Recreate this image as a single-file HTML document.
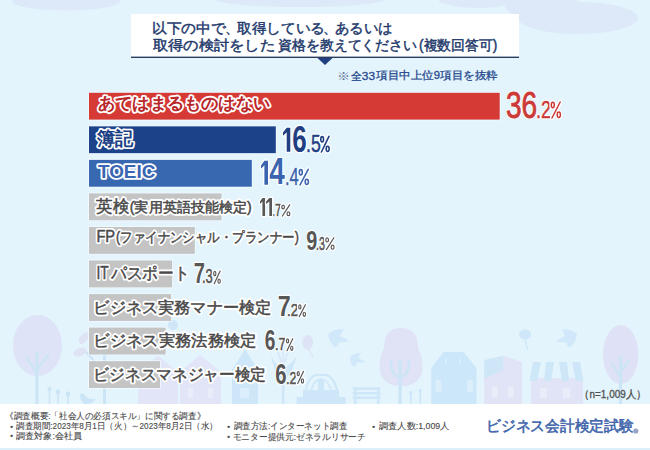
<!DOCTYPE html>
<html lang="ja">
<head>
<meta charset="utf-8">
<style>
html,body{margin:0;padding:0;}
body{width:650px;height:450px;overflow:hidden;position:relative;background:#e3f4fd;font-family:"Liberation Sans",sans-serif;}
svg{position:absolute;left:0;top:0;display:block;}
text{font-family:"Liberation Sans",sans-serif;}
.ls{font-family:"Liberation Sans",sans-serif;}
</style>
</head>
<body>
<svg width="650" height="450" viewBox="0 0 650 450">
<defs>
<linearGradient id="lg" x1="0" y1="0" x2="0" y2="1"><stop offset="0" stop-color="#5a7fc2"/><stop offset="1" stop-color="#34579c"/></linearGradient>
</defs>
<g id="clouds" fill="#dde9f8">
<ellipse cx="66" cy="1" rx="54" ry="9.5"/>
<ellipse cx="300" cy="-1" rx="85" ry="8"/>
<ellipse cx="478" cy="-1" rx="40" ry="9"/>
<ellipse cx="578" cy="18" rx="60" ry="16"/>
<ellipse cx="545" cy="7" rx="40" ry="11"/>
</g>
<g id="city">
<!-- tree 1 -->
<ellipse cx="37.5" cy="345.5" rx="24.5" ry="30.5" fill="#dee3f7"/>
<rect x="35.5" y="352" width="3" height="52" fill="#cbe5f7"/>
<path d="M37 374 L26 356 M37 370 L49 354" stroke="#cbe5f7" stroke-width="2.2" fill="none"/>
<g stroke="#cbe5f7" stroke-width="1.6" fill="#cbe5f7">
<line x1="49.5" y1="390" x2="49.5" y2="404"/><circle cx="49.5" cy="389" r="1.3"/>
<line x1="58" y1="393" x2="58" y2="404"/><circle cx="58" cy="392" r="1.6"/>
<line x1="68" y1="395" x2="68" y2="404"/><circle cx="68" cy="394" r="1.6"/>
</g>
<path d="M80 394 Q84 392 86 397 Q90 400 96 399 Q92 405 84 404 Q80 400 80 394 Z" fill="#cbe5f7"/>
<!-- tree behind bars -->
<g fill="#dfe3f6"><ellipse cx="84" cy="338" rx="4" ry="7" transform="rotate(40 84 338)"/><ellipse cx="80" cy="352" rx="4" ry="7" transform="rotate(70 80 352)"/><ellipse cx="95" cy="345" rx="3.5" ry="6" transform="rotate(20 95 345)"/></g><rect x="103" y="345" width="3" height="59" fill="#cbe5f7"/><path d="M104 372 L86 352" stroke="#cbe5f7" stroke-width="2"/>
<!-- lavender house left -->
<path d="M138 404 L138 372 L158 356 L178 372 L178 404 Z" fill="#e1e5f7"/>
<!-- balloon -->
<circle cx="173" cy="325" r="5" fill="#cfe6f8"/>
<!-- lavender gable house -->
<path d="M180 404 L180 372 L200 355 L221 372 L221 404 Z" fill="#e1e5f7"/>
<g fill="#e9ecf9"><rect x="188" y="388" width="5" height="10"/><rect x="208" y="388" width="5" height="10"/></g>
<!-- blue steeple house -->
<path d="M232 404 L232 370 L245 349 L258 370 L258 404 Z" fill="#cde6f8"/>
<rect x="240" y="388" width="9" height="10" fill="#dcedfb"/>
<!-- tulip lamp -->
<path d="M271 356 Q276 378 283 380 Q290 378 297 356 Q290 366 283 368 Q276 366 271 356 Z" fill="#cde6f8"/>
<rect x="281.8" y="376" width="2.6" height="28" fill="#cde6f8"/>
<path d="M283 368 L278 352 M283 368 L288 351 M283 368 L283 350" stroke="#d8e6f7" stroke-width="1.5"/>
<!-- balloon lavender -->
<ellipse cx="307.7" cy="342.5" rx="5.3" ry="7.5" fill="#dfe3f6"/>
<path d="M309 350 L313 358" stroke="#dfe3f6" stroke-width="1.2"/>
<!-- fountain -->
<path d="M296.6 404 L296.6 397 L303 397 L303 390 L339 390 L339 397 L345.6 397 L345.6 404 Z" fill="#cde6f8"/>
<rect x="318" y="380" width="6" height="12" fill="#cde6f8"/>
<path d="M305 395 Q308 372 321 375 Q334 372 338 395" stroke="#cde6f8" stroke-width="2" fill="none"/>
<path d="M311 393 Q313 380 321 379 Q329 380 332 393" stroke="#cde6f8" stroke-width="1.6" fill="none"/>
<!-- birds -->
<path d="M328 334 Q333 329 344 329 L340 336 Q345 338 349 341 Q343 343 339 342 Q338 347 335 347 Q329 343 328 334 Z" fill="#d0e8f9"/>
<path d="M350 357 Q354 353 361 353 L358 358 Q362 360 365 362 Q360 363 357 362 Q356 367 354 367 Q350 363 350 357 Z" fill="#d0e8f9"/>
<!-- bench -->
<g fill="#cde6f8"><rect x="352.6" y="387.4" width="28" height="2.5"/><rect x="352.6" y="392" width="28" height="2.5"/><rect x="352.6" y="396.5" width="28" height="2.5"/><rect x="354" y="387" width="2.5" height="17"/><rect x="377" y="387" width="2.5" height="17"/></g>
<!-- tree 2 -->
<path d="M401 328 Q418 328 418 348 Q424 360 422 372 Q418 386 401 386 Q384 386 380 372 Q378 360 384 348 Q384 328 401 328 Z" fill="#e0e2f6"/>
<rect x="398.5" y="360" width="3.2" height="44" fill="#cbe5f7"/>
<path d="M391 360 Q391 376 400 377 Q409 376 409 360" stroke="#cbe5f7" stroke-width="2.4" fill="none"/>
<g fill="#cbe5f7"><rect x="410" y="393" width="1.6" height="11"/><circle cx="410.8" cy="392.5" r="1.5"/><rect x="419.5" y="391" width="1.6" height="13"/><circle cx="420.3" cy="390.5" r="1.4"/></g>
<!-- blue house -->
<path d="M431.2 404 L431.2 368 L443.5 352 L463.5 352 L476.5 368 L476.5 404 Z" fill="#cde7fa"/>
<g fill="#dcedfb"><rect x="435.5" y="380" width="6" height="12"/><rect x="467" y="380" width="6" height="12"/><rect x="445" y="359" width="2" height="4"/><rect x="459" y="359" width="2" height="4"/></g>
<!-- lavender house with blue roof -->
<path d="M484.2 404 L484.2 375 L503.5 364 L522 375 L522 404 Z" fill="#e1e4f7"/>
<path d="M484.2 378.8 L484.2 360 L503.5 355.8 L503.5 370 Z" fill="#cfe6f8"/>
<path d="M503.5 355.8 L522 362 L522 378.8 L503.5 370 Z" fill="#e1e4f7"/>
<g fill="#e9ecf9"><rect x="492" y="387" width="6" height="10"/><rect x="508" y="387" width="6" height="10"/></g>
<!-- balloon blue -->
<ellipse cx="525" cy="334.5" rx="6" ry="5" fill="#cde6f8"/>
<path d="M525 339 L527.5 350" stroke="#cde6f8" stroke-width="1.2"/>
<!-- shop -->
<rect x="531" y="378" width="52" height="26" fill="#e1e4f7"/>
<g fill="#cde6f8"><path d="M533 362 L541 362 L537 381 L529.7 381 Z"/><path d="M546 362 L554 362 L551 381 L544 381 Z"/><path d="M559 362 L567 362 L569 381 L562 381 Z"/><path d="M572 362 L580 362 L583.4 381 L576 381 Z"/></g>
<g fill="#e9ecf9"><rect x="540" y="388" width="7" height="10"/><rect x="563" y="388" width="7" height="10"/></g>
<!-- bird 3 -->
<path d="M577 334 Q572 329 562 329 L565 336 Q560 338 556 341 Q562 343 566 342 Q567 347 570 347 Q576 343 577 334 Z" fill="#d0e8f9"/>
<!-- tree 3 -->
<ellipse cx="620.7" cy="354.5" rx="17.7" ry="29.5" fill="#dfe2f6"/>
<rect x="619" y="356" width="3.2" height="48" fill="#cbe5f7"/>
<path d="M620 377 L611 362 M620 373 L629 360" stroke="#cbe5f7" stroke-width="2.2" fill="none"/>
</g>

<!-- title -->
<rect x="131" y="14" width="388" height="43" fill="#fff"/>
<rect x="131" y="56.6" width="388" height="1.4" fill="#2b3c62"/>
<path d="M317.5 58 L332.5 58 L325 65 Z" fill="#1f3f80"/>
<!-- bars -->
<rect x="88.5" y="92.3" width="411.7" height="27.8" fill="none" stroke="#f4fbff" stroke-opacity="0.7" stroke-width="1"/><rect x="89" y="92.8" width="410.7" height="26.8" fill="#d63a35"/>
<rect x="88.5" y="125.85" width="187.8" height="27.8" fill="none" stroke="#f4fbff" stroke-opacity="0.7" stroke-width="1"/><rect x="89" y="126.35" width="186.8" height="26.8" fill="#1c428a"/>
<rect x="88.5" y="159.4" width="163.8" height="27.8" fill="none" stroke="#f4fbff" stroke-opacity="0.7" stroke-width="1"/><rect x="89" y="159.9" width="162.8" height="26.8" fill="#3768b0"/>
<rect x="88.5" y="192.95" width="133.5" height="27.8" fill="none" stroke="#f4fbff" stroke-opacity="0.7" stroke-width="1"/><rect x="89" y="193.45" width="132.5" height="26.8" fill="#c4c4c4"/>
<rect x="88.5" y="226.5" width="106.8" height="27.8" fill="none" stroke="#f4fbff" stroke-opacity="0.7" stroke-width="1"/><rect x="89" y="227.0" width="105.8" height="26.8" fill="#c4c4c4"/>
<rect x="88.5" y="260.05" width="84.05" height="27.8" fill="none" stroke="#f4fbff" stroke-opacity="0.7" stroke-width="1"/><rect x="89" y="260.55" width="83.05" height="26.8" fill="#c4c4c4"/>
<rect x="88.5" y="293.6" width="83.1" height="27.8" fill="none" stroke="#f4fbff" stroke-opacity="0.7" stroke-width="1"/><rect x="89" y="294.1" width="82.1" height="26.8" fill="#c4c4c4"/>
<rect x="88.5" y="327.15" width="77.6" height="27.8" fill="none" stroke="#f4fbff" stroke-opacity="0.7" stroke-width="1"/><rect x="89" y="327.65" width="76.6" height="26.8" fill="#c4c4c4"/>
<rect x="88.5" y="360.7" width="72" height="27.8" fill="none" stroke="#f4fbff" stroke-opacity="0.7" stroke-width="1"/><rect x="89" y="361.2" width="71" height="26.8" fill="#c4c4c4"/>
<!-- footer -->
<rect x="0" y="404" width="650" height="44" fill="#fff"/>
<rect x="0" y="448" width="650" height="2" fill="#dcf0fb"/>
<!-- texts -->
<text x="151.80" y="32.60" font-size="13.80" textLength="73.57" lengthAdjust="spacingAndGlyphs" fill="#233a6c" stroke="#233a6c" stroke-width="0.45">以下の中で</text>
<text x="225.00" y="32.60" font-size="13.80" fill="#233a6c" stroke="#233a6c" stroke-width="0.45">、</text>
<text x="237.20" y="32.60" font-size="13.80" textLength="87.55" lengthAdjust="spacingAndGlyphs" fill="#233a6c" stroke="#233a6c" stroke-width="0.45">取得している</text>
<text x="323.00" y="32.60" font-size="13.80" fill="#233a6c" stroke="#233a6c" stroke-width="0.45">、</text>
<text x="335.00" y="32.60" font-size="13.80" textLength="57.59" lengthAdjust="spacingAndGlyphs" fill="#233a6c" stroke="#233a6c" stroke-width="0.45">あるいは</text>
<text x="152.80" y="49.80" font-size="13.80" textLength="122.10" lengthAdjust="spacingAndGlyphs" fill="#233a6c" stroke="#233a6c" stroke-width="0.45">取得の検討をした</text>
<text x="277.80" y="49.80" font-size="13.80" textLength="139.50" lengthAdjust="spacingAndGlyphs" fill="#233a6c" stroke="#233a6c" stroke-width="0.45">資格を教えてください</text>
<text x="419.00" y="49.80" font-size="13.80" textLength="78.21" lengthAdjust="spacingAndGlyphs" fill="#233a6c" stroke="#233a6c" stroke-width="0.45">(複数回答可)</text>
<text x="337.20" y="80.20" font-size="10.80" textLength="13.12" lengthAdjust="spacingAndGlyphs" fill="#55648c">※</text>
<text x="350.80" y="79.80" font-size="10.80" textLength="11.04" lengthAdjust="spacingAndGlyphs" fill="#284a8e" stroke="#284a8e" stroke-width="0.3">全</text>
<text x="361.80" y="80.00" font-size="11.55" textLength="13.24" lengthAdjust="spacingAndGlyphs" fill="#284a8e" stroke="#284a8e" stroke-width="0.3">33</text>
<text x="376.20" y="78.80" font-size="10.80" textLength="121.39" lengthAdjust="spacingAndGlyphs" fill="#284a8e" stroke="#284a8e" stroke-width="0.3">項目中上位9項目を抜粋</text>
<text x="98.00" y="108.80" font-size="17.46" font-weight="bold" textLength="172.00" lengthAdjust="spacingAndGlyphs" fill="#fff" stroke="#fff" stroke-width="3.6" stroke-linejoin="round">あてはまるものはない</text><text x="98.00" y="108.80" font-size="17.46" font-weight="bold" textLength="172.00" lengthAdjust="spacingAndGlyphs" fill="#b8272a">あてはまるものはない</text>
<text x="97.00" y="145.00" font-size="18.61" font-weight="bold" textLength="36.51" lengthAdjust="spacingAndGlyphs" fill="#fff" stroke="#fff" stroke-width="3.5" stroke-linejoin="round">簿記</text><text x="97.00" y="145.00" font-size="18.61" font-weight="bold" textLength="36.51" lengthAdjust="spacingAndGlyphs" fill="#1c3f86">簿記</text>
<text x="98.00" y="178.20" font-size="17.77" font-weight="bold" textLength="57.32" lengthAdjust="spacingAndGlyphs" fill="#fff" stroke="#fff" stroke-width="3.5" stroke-linejoin="round">TOEIC</text><text x="98.00" y="178.20" font-size="17.77" font-weight="bold" textLength="57.32" lengthAdjust="spacingAndGlyphs" fill="#3a66b2">TOEIC</text>
<text x="96.40" y="212.20" font-size="16.88" textLength="32.88" lengthAdjust="spacingAndGlyphs" fill="#fff" stroke="#fff" stroke-width="4.2" stroke-linejoin="round">英検</text><text x="96.40" y="212.20" font-size="16.88" textLength="32.88" lengthAdjust="spacingAndGlyphs" fill="#4a4a4a" stroke="#4a4a4a" stroke-width="0.5">英検</text>
<text x="129.80" y="212.20" font-size="14.00" textLength="121.84" lengthAdjust="spacingAndGlyphs" fill="#fff" stroke="#fff" stroke-width="4.2" stroke-linejoin="round">(実用英語技能検定)</text><text x="129.80" y="212.20" font-size="14.00" textLength="121.84" lengthAdjust="spacingAndGlyphs" fill="#4a4a4a" stroke="#4a4a4a" stroke-width="0.5">(実用英語技能検定)</text>
<text x="96.40" y="242.00" font-size="15.62" textLength="18.74" lengthAdjust="spacingAndGlyphs" fill="#fff" stroke="#fff" stroke-width="4.0" stroke-linejoin="round">FP</text><text x="96.40" y="242.00" font-size="15.62" textLength="18.74" lengthAdjust="spacingAndGlyphs" fill="#4a4a4a" stroke="#4a4a4a" stroke-width="0.5">FP</text>
<text x="116.00" y="242.00" font-size="14.00" textLength="182.79" lengthAdjust="spacingAndGlyphs" fill="#fff" stroke="#fff" stroke-width="4.2" stroke-linejoin="round">(ファイナンシャル・プランナー)</text><text x="116.00" y="242.00" font-size="14.00" textLength="182.79" lengthAdjust="spacingAndGlyphs" fill="#4a4a4a" stroke="#4a4a4a" stroke-width="0.5">(ファイナンシャル・プランナー)</text>
<text x="96.40" y="278.80" font-size="17.44" textLength="12.21" lengthAdjust="spacingAndGlyphs" fill="#fff" stroke="#fff" stroke-width="4.0" stroke-linejoin="round">IT</text><text x="96.40" y="278.80" font-size="17.44" textLength="12.21" lengthAdjust="spacingAndGlyphs" fill="#4a4a4a" stroke="#4a4a4a" stroke-width="0.5">IT</text>
<text x="110.80" y="278.80" font-size="16.50" textLength="78.73" lengthAdjust="spacingAndGlyphs" fill="#fff" stroke="#fff" stroke-width="4.2" stroke-linejoin="round">パスポート</text><text x="110.80" y="278.80" font-size="16.50" textLength="78.73" lengthAdjust="spacingAndGlyphs" fill="#4a4a4a" stroke="#4a4a4a" stroke-width="0.5">パスポート</text>
<text x="93.40" y="312.60" font-size="16.34" textLength="177.91" lengthAdjust="spacingAndGlyphs" fill="#fff" stroke="#fff" stroke-width="4.2" stroke-linejoin="round">ビジネス実務マナー検定</text><text x="93.40" y="312.60" font-size="16.34" textLength="177.91" lengthAdjust="spacingAndGlyphs" fill="#4a4a4a" stroke="#4a4a4a" stroke-width="0.5">ビジネス実務マナー検定</text>
<text x="93.40" y="345.60" font-size="16.34" textLength="163.45" lengthAdjust="spacingAndGlyphs" fill="#fff" stroke="#fff" stroke-width="4.2" stroke-linejoin="round">ビジネス実務法務検定</text><text x="93.40" y="345.60" font-size="16.34" textLength="163.45" lengthAdjust="spacingAndGlyphs" fill="#4a4a4a" stroke="#4a4a4a" stroke-width="0.5">ビジネス実務法務検定</text>
<text x="93.40" y="379.60" font-size="16.34" textLength="172.81" lengthAdjust="spacingAndGlyphs" fill="#fff" stroke="#fff" stroke-width="4.2" stroke-linejoin="round">ビジネスマネジャー検定</text><text x="93.40" y="379.60" font-size="16.34" textLength="172.81" lengthAdjust="spacingAndGlyphs" fill="#4a4a4a" stroke="#4a4a4a" stroke-width="0.5">ビジネスマネジャー検定</text>
<text x="506.00" y="118.00" font-size="36.49" textLength="31.16" lengthAdjust="spacingAndGlyphs" fill="#fff" stroke="#fff" stroke-width="2.5" stroke-linejoin="round">36</text><text x="506.00" y="118.00" font-size="36.49" textLength="31.16" lengthAdjust="spacingAndGlyphs" fill="#cc3a38" stroke="#cc3a38" stroke-width="0.9">36</text>
<text x="536.00" y="118.00" font-size="24.48" textLength="15.00" lengthAdjust="spacingAndGlyphs" fill="#fff" stroke="#fff" stroke-width="2.5" stroke-linejoin="round">.2</text><text x="536.00" y="118.00" font-size="24.48" textLength="15.00" lengthAdjust="spacingAndGlyphs" fill="#cc3a38" stroke="#cc3a38" stroke-width="0.5">.2</text>
<text x="292.20" y="152.00" font-size="36.49" font-weight="bold" textLength="14.46" lengthAdjust="spacingAndGlyphs" fill="#fff" stroke="#fff" stroke-width="2.5" stroke-linejoin="round">6</text><text x="292.20" y="152.00" font-size="36.49" font-weight="bold" textLength="14.46" lengthAdjust="spacingAndGlyphs" fill="#1f3f82">6</text>
<text x="306.00" y="152.00" font-size="23.98" textLength="14.72" lengthAdjust="spacingAndGlyphs" fill="#fff" stroke="#fff" stroke-width="2.5" stroke-linejoin="round">.5</text><text x="306.00" y="152.00" font-size="23.98" textLength="14.72" lengthAdjust="spacingAndGlyphs" fill="#1f3f82" stroke="#1f3f82" stroke-width="0.5">.5</text>
<text x="269.20" y="184.20" font-size="36.38" font-weight="bold" textLength="15.53" lengthAdjust="spacingAndGlyphs" fill="#fff" stroke="#fff" stroke-width="2.5" stroke-linejoin="round">4</text><text x="269.20" y="184.20" font-size="36.38" font-weight="bold" textLength="15.53" lengthAdjust="spacingAndGlyphs" fill="#3a64ae">4</text>
<text x="285.00" y="185.00" font-size="23.98" textLength="13.72" lengthAdjust="spacingAndGlyphs" fill="#fff" stroke="#fff" stroke-width="2.5" stroke-linejoin="round">.4</text><text x="285.00" y="185.00" font-size="23.98" textLength="13.72" lengthAdjust="spacingAndGlyphs" fill="#3a64ae" stroke="#3a64ae" stroke-width="0.5">.4</text>
<text x="272.00" y="216.00" font-size="16.55" textLength="9.33" lengthAdjust="spacingAndGlyphs" fill="#fff" stroke="#fff" stroke-width="2.5" stroke-linejoin="round">.7</text><text x="272.00" y="216.00" font-size="16.55" textLength="9.33" lengthAdjust="spacingAndGlyphs" fill="#575757" stroke="#575757" stroke-width="0.6">.7</text>
<text x="306.20" y="249.60" font-size="28.55" font-weight="bold" textLength="11.02" lengthAdjust="spacingAndGlyphs" fill="#fff" stroke="#fff" stroke-width="2.5" stroke-linejoin="round">9</text><text x="306.20" y="249.60" font-size="28.55" font-weight="bold" textLength="11.02" lengthAdjust="spacingAndGlyphs" fill="#575757">9</text>
<text x="316.00" y="249.60" font-size="18.96" textLength="8.93" lengthAdjust="spacingAndGlyphs" fill="#fff" stroke="#fff" stroke-width="2.5" stroke-linejoin="round">.3</text><text x="316.00" y="249.60" font-size="18.96" textLength="8.93" lengthAdjust="spacingAndGlyphs" fill="#575757" stroke="#575757" stroke-width="0.6">.3</text>
<text x="193.80" y="283.20" font-size="29.33" font-weight="bold" textLength="11.20" lengthAdjust="spacingAndGlyphs" fill="#fff" stroke="#fff" stroke-width="2.5" stroke-linejoin="round">7</text><text x="193.80" y="283.20" font-size="29.33" font-weight="bold" textLength="11.20" lengthAdjust="spacingAndGlyphs" fill="#575757">7</text>
<text x="202.00" y="283.20" font-size="20.20" textLength="10.82" lengthAdjust="spacingAndGlyphs" fill="#fff" stroke="#fff" stroke-width="2.5" stroke-linejoin="round">.3</text><text x="202.00" y="283.20" font-size="20.20" textLength="10.82" lengthAdjust="spacingAndGlyphs" fill="#575757" stroke="#575757" stroke-width="0.6">.3</text>
<text x="277.80" y="316.20" font-size="29.33" font-weight="bold" textLength="12.96" lengthAdjust="spacingAndGlyphs" fill="#fff" stroke="#fff" stroke-width="2.5" stroke-linejoin="round">7</text><text x="277.80" y="316.20" font-size="29.33" font-weight="bold" textLength="12.96" lengthAdjust="spacingAndGlyphs" fill="#575757">7</text>
<text x="287.00" y="316.20" font-size="16.73" textLength="11.25" lengthAdjust="spacingAndGlyphs" fill="#fff" stroke="#fff" stroke-width="2.5" stroke-linejoin="round">.2</text><text x="287.00" y="316.20" font-size="16.73" textLength="11.25" lengthAdjust="spacingAndGlyphs" fill="#575757" stroke="#575757" stroke-width="0.6">.2</text>
<text x="264.80" y="350.20" font-size="29.33" font-weight="bold" textLength="10.68" lengthAdjust="spacingAndGlyphs" fill="#fff" stroke="#fff" stroke-width="2.5" stroke-linejoin="round">6</text><text x="264.80" y="350.20" font-size="29.33" font-weight="bold" textLength="10.68" lengthAdjust="spacingAndGlyphs" fill="#575757">6</text>
<text x="275.00" y="350.20" font-size="16.73" textLength="10.74" lengthAdjust="spacingAndGlyphs" fill="#fff" stroke="#fff" stroke-width="2.5" stroke-linejoin="round">.7</text><text x="275.00" y="350.20" font-size="16.73" textLength="10.74" lengthAdjust="spacingAndGlyphs" fill="#575757" stroke="#575757" stroke-width="0.6">.7</text>
<text x="275.20" y="383.60" font-size="29.30" font-weight="bold" textLength="11.32" lengthAdjust="spacingAndGlyphs" fill="#fff" stroke="#fff" stroke-width="2.5" stroke-linejoin="round">6</text><text x="275.20" y="383.60" font-size="29.30" font-weight="bold" textLength="11.32" lengthAdjust="spacingAndGlyphs" fill="#575757">6</text>
<text x="286.00" y="383.60" font-size="16.73" textLength="10.75" lengthAdjust="spacingAndGlyphs" fill="#fff" stroke="#fff" stroke-width="2.5" stroke-linejoin="round">.2</text><text x="286.00" y="383.60" font-size="16.73" textLength="10.75" lengthAdjust="spacingAndGlyphs" fill="#575757" stroke="#575757" stroke-width="0.6">.2</text>
<text x="5.20" y="418.70" font-size="8.60" textLength="199.97" lengthAdjust="spacingAndGlyphs" fill="#4a4a4a" stroke="#4a4a4a" stroke-width="0.12">《調査概要:「社会人の必須スキル」に関する調査》</text>
<text x="7.00" y="429.50" font-size="9.00" fill="#444" stroke="#444" stroke-width="0.8">・</text>
<text x="16.20" y="428.80" font-size="8.60" textLength="201.84" lengthAdjust="spacingAndGlyphs" fill="#4a4a4a" stroke="#4a4a4a" stroke-width="0.12">調査期間:2023年8月1日（火）～2023年8月2日（水）</text>
<text x="7.00" y="439.00" font-size="9.00" fill="#444" stroke="#444" stroke-width="0.8">・</text>
<text x="16.20" y="438.60" font-size="8.60" textLength="65.90" lengthAdjust="spacingAndGlyphs" fill="#4a4a4a" stroke="#4a4a4a" stroke-width="0.12">調査対象:会社員</text>
<text x="224.00" y="429.50" font-size="9.00" fill="#444" stroke="#444" stroke-width="0.8">・</text>
<text x="233.80" y="428.80" font-size="8.60" textLength="113.37" lengthAdjust="spacingAndGlyphs" fill="#4a4a4a" stroke="#4a4a4a" stroke-width="0.12">調査方法:インターネット調査</text>
<text x="224.00" y="440.00" font-size="9.00" fill="#444" stroke="#444" stroke-width="0.8">・</text>
<text x="232.80" y="439.60" font-size="8.60" textLength="132.82" lengthAdjust="spacingAndGlyphs" fill="#4a4a4a" stroke="#4a4a4a" stroke-width="0.12">モニター提供元:ゼネラルリサーチ</text>
<text x="368.80" y="429.50" font-size="9.00" fill="#444" stroke="#444" stroke-width="0.8">・</text>
<text x="378.80" y="428.80" font-size="8.60" textLength="70.73" lengthAdjust="spacingAndGlyphs" fill="#4a4a4a" stroke="#4a4a4a" stroke-width="0.12">調査人数:1,009人</text>
<text x="579.20" y="398.00" font-size="10.50" textLength="67.23" lengthAdjust="spacingAndGlyphs" fill="#505050" stroke="#505050" stroke-width="0.3">（n=1,009人）</text>
<text x="486.20" y="430.90" font-size="15.00" textLength="147.44" lengthAdjust="spacingAndGlyphs" fill="#4065aa" stroke="#4065aa" stroke-width="0.55">ビジネス会計検定試験</text>
<path d="M286.70 127.70 L290.30 127.70 L290.30 151.70 L286.70 151.70 L286.70 132.26 L283.00 135.86 L283.00 132.50 Z" fill="#fff" stroke="#fff" stroke-width="2.5" stroke-linejoin="round"/><path d="M286.70 127.70 L290.30 127.70 L290.30 151.70 L286.70 151.70 L286.70 132.26 L283.00 135.86 L283.00 132.50 Z" fill="#1f3f82"/><path d="M264.40 160.70 L268.00 160.70 L268.00 184.70 L264.40 184.70 L264.40 165.26 L261.00 168.86 L261.00 165.50 Z" fill="#fff" stroke="#fff" stroke-width="2.5" stroke-linejoin="round"/><path d="M264.40 160.70 L268.00 160.70 L268.00 184.70 L264.40 184.70 L264.40 165.26 L261.00 168.86 L261.00 165.50 Z" fill="#3a64ae"/><path d="M262.42 198.00 L265.10 198.00 L265.10 215.90 L262.42 215.90 L262.42 201.40 L260.00 204.09 L260.00 201.58 Z" fill="#fff" stroke="#fff" stroke-width="2.5" stroke-linejoin="round"/><path d="M262.42 198.00 L265.10 198.00 L265.10 215.90 L262.42 215.90 L262.42 201.40 L260.00 204.09 L260.00 201.58 Z" fill="#575757"/><path d="M269.31 198.00 L272.00 198.00 L272.00 215.90 L269.31 215.90 L269.31 201.40 L266.10 204.09 L266.10 201.58 Z" fill="#fff" stroke="#fff" stroke-width="2.5" stroke-linejoin="round"/><path d="M269.31 198.00 L272.00 198.00 L272.00 215.90 L269.31 215.90 L269.31 201.40 L266.10 204.09 L266.10 201.58 Z" fill="#575757"/><g fill="none" stroke="#fff" stroke-width="4.00" stroke-linecap="round"><ellipse cx="552.80" cy="105.04" rx="1.50" ry="2.72"/><ellipse cx="558.80" cy="114.80" rx="1.60" ry="2.72"/><path d="M560.20 102.00 L552.00 118.00"/></g><g fill="none" stroke="#cc3a38" stroke-width="1.50" stroke-linecap="round"><ellipse cx="552.80" cy="105.04" rx="1.50" ry="2.72"/><ellipse cx="558.80" cy="114.80" rx="1.60" ry="2.72"/><path d="M560.20 102.00 L552.00 118.00"/></g><g fill="none" stroke="#fff" stroke-width="4.10" stroke-linecap="round"><ellipse cx="322.16" cy="139.28" rx="1.38" ry="2.67"/><ellipse cx="327.68" cy="148.86" rx="1.47" ry="2.67"/><path d="M328.96 136.30 L321.42 152.00"/></g><g fill="none" stroke="#1f3f82" stroke-width="1.60" stroke-linecap="round"><ellipse cx="322.16" cy="139.28" rx="1.38" ry="2.67"/><ellipse cx="327.68" cy="148.86" rx="1.47" ry="2.67"/><path d="M328.96 136.30 L321.42 152.00"/></g><g fill="none" stroke="#fff" stroke-width="4.10" stroke-linecap="round"><ellipse cx="300.80" cy="172.28" rx="1.50" ry="2.67"/><ellipse cx="306.80" cy="181.86" rx="1.60" ry="2.67"/><path d="M308.20 169.30 L300.00 185.00"/></g><g fill="none" stroke="#3a64ae" stroke-width="1.60" stroke-linecap="round"><ellipse cx="300.80" cy="172.28" rx="1.50" ry="2.67"/><ellipse cx="306.80" cy="181.86" rx="1.60" ry="2.67"/><path d="M308.20 169.30 L300.00 185.00"/></g><g fill="none" stroke="#fff" stroke-width="3.70" stroke-linecap="round"><ellipse cx="283.10" cy="206.93" rx="1.33" ry="1.90"/><ellipse cx="288.44" cy="213.76" rx="1.42" ry="1.90"/><path d="M289.69 204.80 L282.39 216.00"/></g><g fill="none" stroke="#575757" stroke-width="1.20" stroke-linecap="round"><ellipse cx="283.10" cy="206.93" rx="1.33" ry="1.90"/><ellipse cx="288.44" cy="213.76" rx="1.42" ry="1.90"/><path d="M289.69 204.80 L282.39 216.00"/></g><g fill="none" stroke="#fff" stroke-width="3.70" stroke-linecap="round"><ellipse cx="327.14" cy="239.96" rx="1.37" ry="2.02"/><ellipse cx="332.60" cy="247.22" rx="1.46" ry="2.02"/><path d="M333.87 237.70 L326.41 249.60"/></g><g fill="none" stroke="#575757" stroke-width="1.20" stroke-linecap="round"><ellipse cx="327.14" cy="239.96" rx="1.37" ry="2.02"/><ellipse cx="332.60" cy="247.22" rx="1.46" ry="2.02"/><path d="M333.87 237.70 L326.41 249.60"/></g><g fill="none" stroke="#fff" stroke-width="3.70" stroke-linecap="round"><ellipse cx="214.80" cy="273.41" rx="1.08" ry="2.16"/><ellipse cx="219.12" cy="281.16" rx="1.15" ry="2.16"/><path d="M220.12 271.00 L214.22 283.70"/></g><g fill="none" stroke="#575757" stroke-width="1.20" stroke-linecap="round"><ellipse cx="214.80" cy="273.41" rx="1.08" ry="2.16"/><ellipse cx="219.12" cy="281.16" rx="1.15" ry="2.16"/><path d="M220.12 271.00 L214.22 283.70"/></g><g fill="none" stroke="#fff" stroke-width="3.70" stroke-linecap="round"><ellipse cx="299.85" cy="306.98" rx="1.12" ry="2.04"/><ellipse cx="304.35" cy="314.30" rx="1.20" ry="2.04"/><path d="M305.40 304.70 L299.25 316.70"/></g><g fill="none" stroke="#575757" stroke-width="1.20" stroke-linecap="round"><ellipse cx="299.85" cy="306.98" rx="1.12" ry="2.04"/><ellipse cx="304.35" cy="314.30" rx="1.20" ry="2.04"/><path d="M305.40 304.70 L299.25 316.70"/></g><g fill="none" stroke="#fff" stroke-width="3.70" stroke-linecap="round"><ellipse cx="287.56" cy="340.98" rx="1.05" ry="2.04"/><ellipse cx="291.76" cy="348.30" rx="1.12" ry="2.04"/><path d="M292.74 338.70 L287.00 350.70"/></g><g fill="none" stroke="#575757" stroke-width="1.20" stroke-linecap="round"><ellipse cx="287.56" cy="340.98" rx="1.05" ry="2.04"/><ellipse cx="291.76" cy="348.30" rx="1.12" ry="2.04"/><path d="M292.74 338.70 L287.00 350.70"/></g><g fill="none" stroke="#fff" stroke-width="3.70" stroke-linecap="round"><ellipse cx="298.26" cy="373.68" rx="1.05" ry="2.04"/><ellipse cx="302.46" cy="381.00" rx="1.12" ry="2.04"/><path d="M303.44 371.40 L297.70 383.40"/></g><g fill="none" stroke="#575757" stroke-width="1.20" stroke-linecap="round"><ellipse cx="298.26" cy="373.68" rx="1.05" ry="2.04"/><ellipse cx="302.46" cy="381.00" rx="1.12" ry="2.04"/><path d="M303.44 371.40 L297.70 383.40"/></g>
<circle cx="635.8" cy="431" r="2.6" fill="#98a4c4"/>
</svg>
</body>
</html>
